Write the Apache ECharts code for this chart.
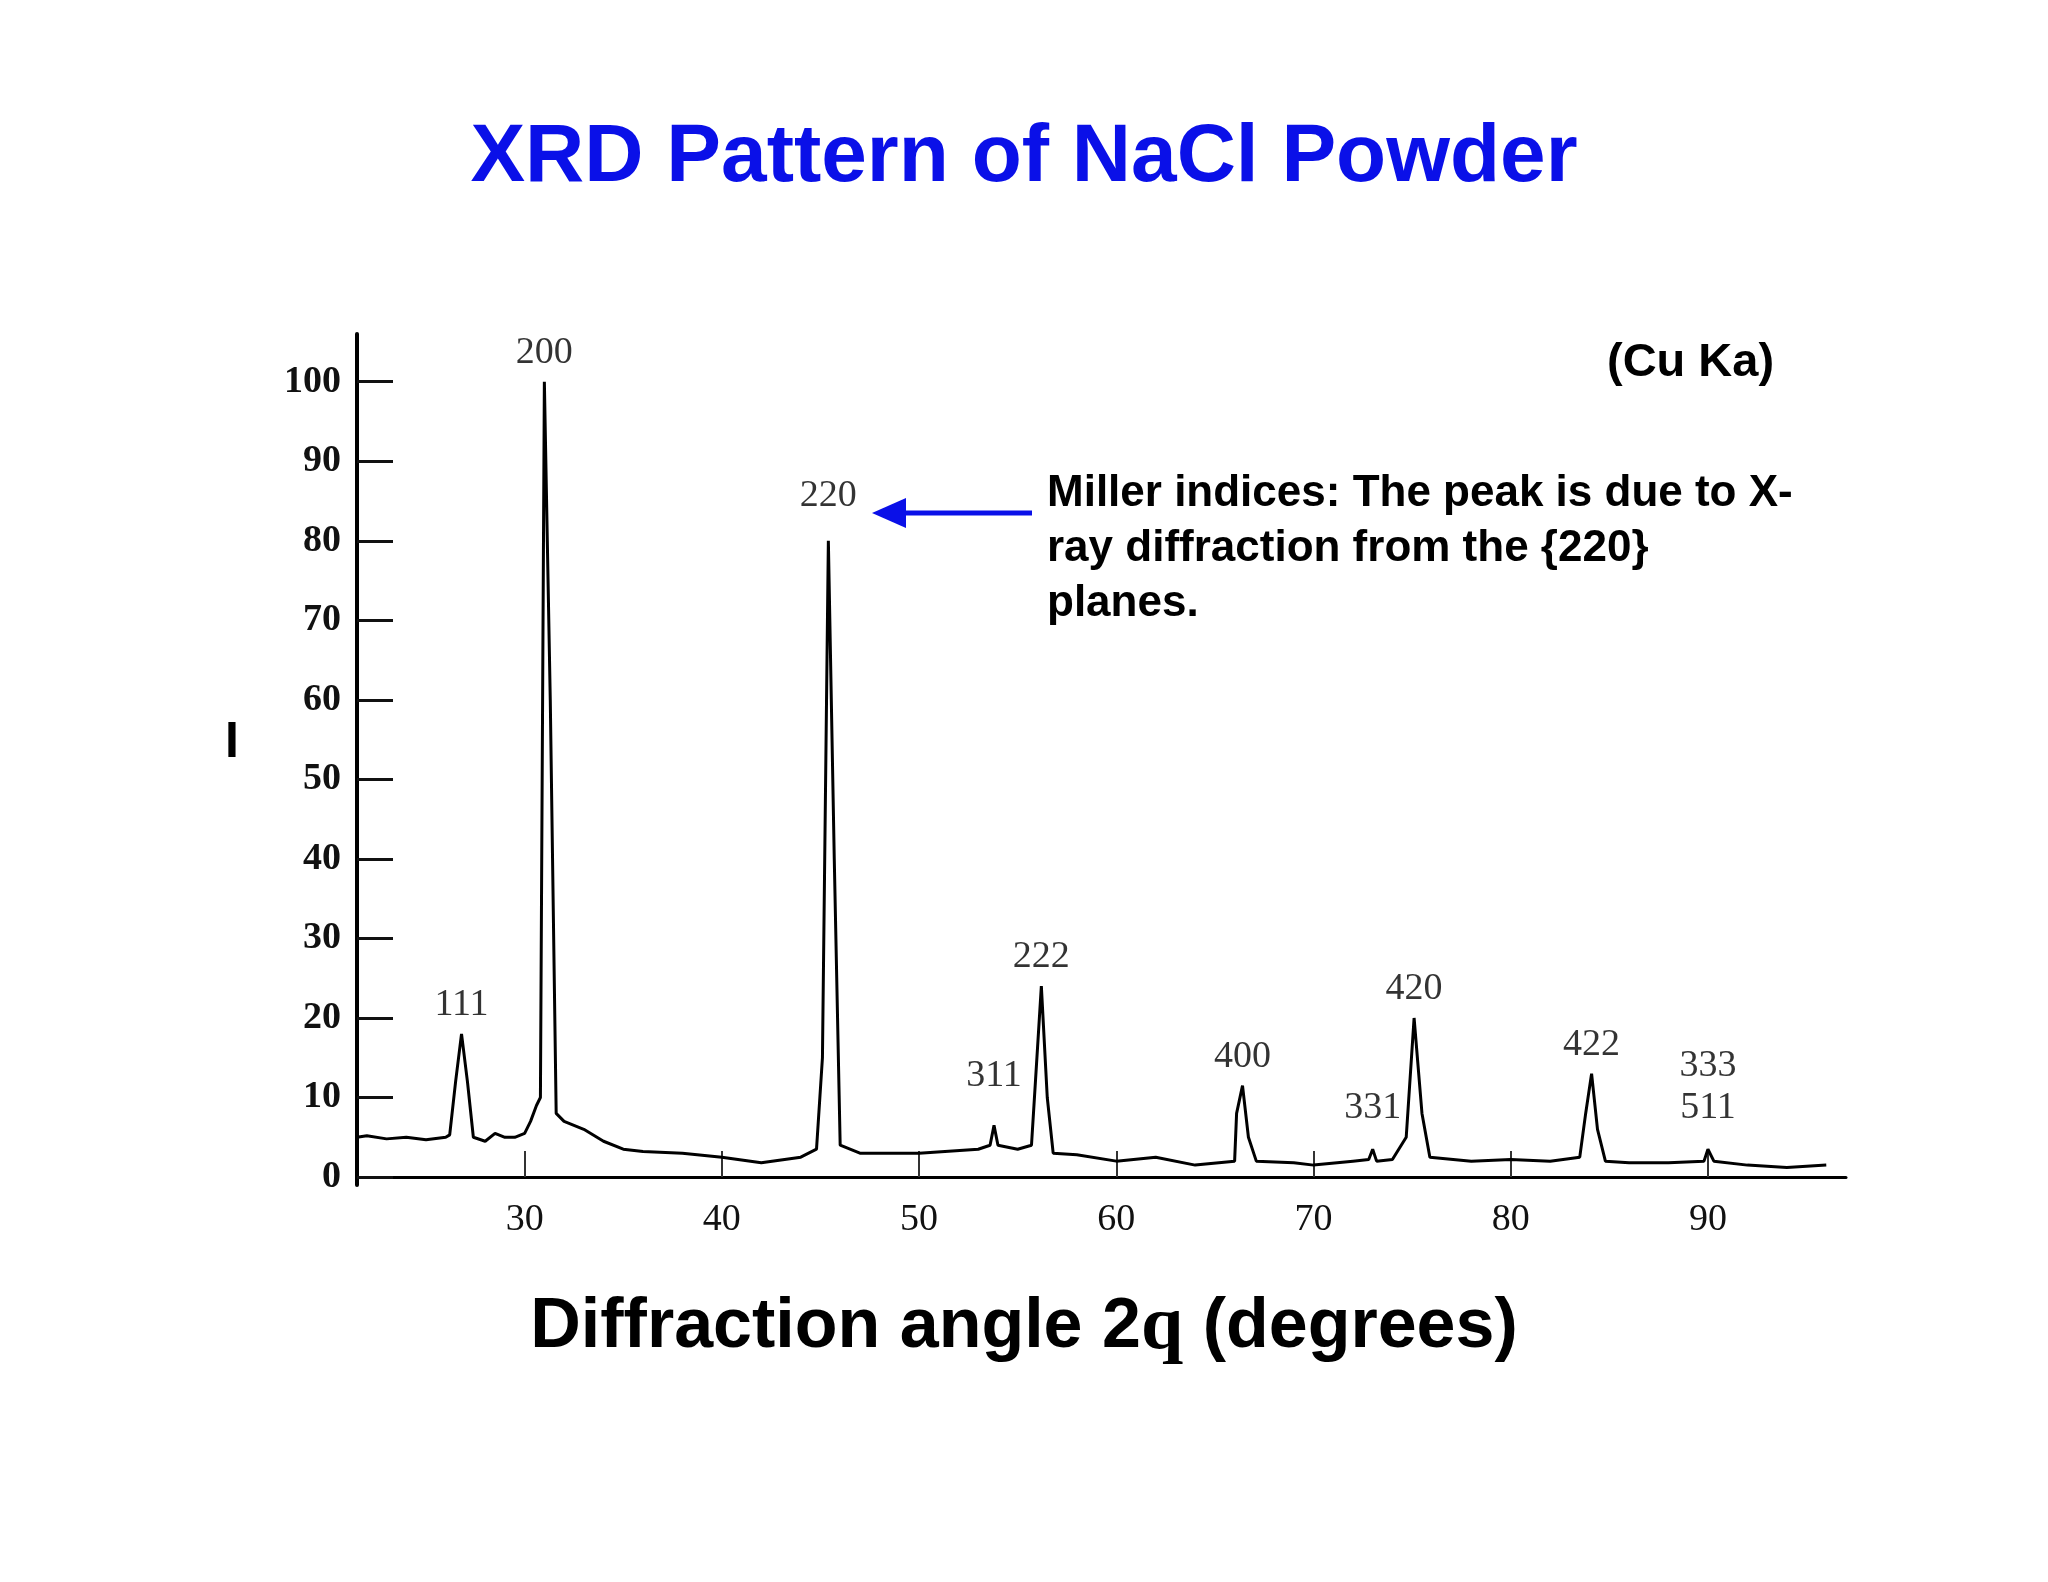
<!DOCTYPE html>
<html>
<head>
<meta charset="UTF-8">
<script src="https://cdn.jsdelivr.net/npm/echarts@6/dist/echarts.min.js"></script>
</head>
<body style="margin:0;background:#fff">
<div id="main" style="width:2048px;height:1582px;"></div>
<script>
// 2theta (deg), intensity
var angles = [21.5,22,23,24,25,26,26.2,26.5,26.8,27.1,27.4,28,28.5,29,29.5,30,30.3,30.6,30.8,31.0,31.3,31.6,32,33,34,35,36,38,40,42,44,44.8,45.1,45.4,45.7,46.0,47,50,53,53.6,53.8,54.0,55,55.7,55.9,56.2,56.5,56.8,58,60,62,64,66,66.1,66.4,66.7,67.1,69,70,72,72.8,73,73.2,74,74.7,75.1,75.5,75.9,78,80,82,83.5,83.8,84.1,84.4,84.8,86,88,89.8,90,90.3,92,94,96];
var intensity = [5,5.2,4.8,5,4.7,5,5.3,12,18,12,5,4.5,5.5,5,5,5.5,7,9,10,100,60,8,7,6,4.5,3.5,3.2,3,2.5,1.8,2.5,3.5,15,80,40,4,3,3,3.5,4,6.5,4,3.5,4,12,24,10,3,2.8,2,2.5,1.5,2,8,11.5,5,2,1.8,1.5,2,2.2,3.5,2,2.2,5,20,8,2.5,2,2.2,2,2.5,8,13,6,2,1.8,1.8,2,3.5,2,1.5,1.2,1.5];
var peakNames = ['111','200','220','222','311','400','331','420','422','333\n511'];
var peakAngles = [26.8,31.0,45.4,56.2,53.8,66.4,73.0,75.1,84.1,90.0];
var peakLabelI = [18,100,82,24,9,11.5,5,20,13,5];
var xTicks = [30,40,50,60,70,80,90];

var chart = echarts.init(document.getElementById('main'));
var serif = 'Liberation Serif';
chart.setOption({
  backgroundColor: '#fff',
  animation: false,
  grid: { left: 357, right: 202, top: 334, bottom: 397 },
  title: {
    text: 'XRD Pattern of NaCl Powder', left: 'center', top: 112,
    textStyle: { color: '#0a10e8', fontSize: 82, fontWeight: 'bold', fontFamily: 'Liberation Sans' }
  },
  xAxis: {
    type: 'value', min: 21.5, max: 97, interval: 10,
    axisLine: { lineStyle: { color: '#000', width: 3 } },
    axisTick: { inside: true, length: 26, lineStyle: { color: '#333', width: 2 },
      customValues: xTicks },
    axisLabel: { customValues: xTicks, color: '#111', fontSize: 38, fontFamily: serif, margin: 16 },
    splitLine: { show: false }
  },
  yAxis: {
    type: 'value', min: -1, max: 106, interval: 10,
    axisLine: { show: true, lineStyle: { color: '#000', width: 4 } },
    axisTick: { show: true, inside: true, length: 36, lineStyle: { color: '#111', width: 3 },
      customValues: [0,10,20,30,40,50,60,70,80,90,100] },
    axisLabel: { customValues: [0,10,20,30,40,50,60,70,80,90,100], color: '#111', fontSize: 38,
      fontFamily: serif, fontWeight: 'bold', margin: 16 },
    splitLine: { show: false }
  },
  series: [
    {
      type: 'line', symbol: 'none',
      data: angles.map(function (a, i) { return [a, intensity[i]]; }),
      lineStyle: { color: '#000', width: 3 }
    },
    {
      type: 'scatter', symbolSize: 0,
      data: peakAngles.map(function (a, i) { return { value: [a, peakLabelI[i]], name: peakNames[i] }; }),
      label: { show: true, position: 'top', distance: 8, formatter: '{b}', color: '#000',
        fontSize: 38, fontFamily: serif, lineHeight: 42 }
    }
  ],
  graphic: [
    { type: 'text', left: 1607, top: 340, style: { text: '(Cu Ka)', font: 'bold 47px Liberation Sans', fill: '#000' } },
    { type: 'text', left: 225, top: 718, style: { text: 'I', font: 'bold 50px Liberation Sans', fill: '#000' } },
    { type: 'text', left: 1047, top: 466, style: {
      text: 'Miller indices: The peak is due to X-\nray diffraction from the {220}\nplanes.',
      font: 'bold 44px Liberation Sans', lineHeight: 55, fill: '#000' } },
    { type: 'line', shape: { x1: 1032, y1: 513, x2: 900, y2: 513 }, style: { stroke: '#0a10e8', lineWidth: 5 } },
    { type: 'polygon', shape: { points: [[872, 513], [906, 498], [906, 528]] }, style: { fill: '#0a10e8' } },
    { type: 'text', left: 'center', top: 1290, style: {
      text: '{a|Diffraction angle 2}{q|q}{a| (degrees)}',
      rich: { a: { font: 'bold 70px Liberation Sans', fill: '#000' },
              q: { font: 'bold 76px Liberation Serif', fill: '#000' } } } }
  ]
});
</script>
</body>
</html>
